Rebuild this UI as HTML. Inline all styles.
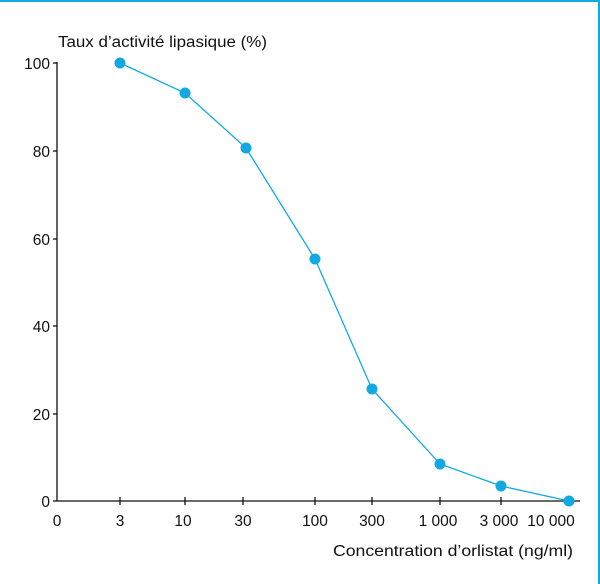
<!DOCTYPE html>
<html><head><style>body{margin:0;background:#fff}svg{display:block}text{font-family:"Liberation Sans",sans-serif;font-size:15.5px;fill:#111}</style></head><body>
<svg width="600" height="584" viewBox="0 0 600 584">
<rect x="0" y="0" width="600" height="2" fill="#12a9e3"/>
<rect x="598" y="0" width="2" height="584" fill="#12a9e3"/>
<g stroke="#111" stroke-width="1.3">
<line x1="57" y1="62" x2="57" y2="501"/>
<line x1="57" y1="501" x2="580" y2="501"/>
<line x1="53" y1="63" x2="57" y2="63"/><line x1="53" y1="151" x2="57" y2="151"/><line x1="53" y1="239" x2="57" y2="239"/><line x1="53" y1="326" x2="57" y2="326"/><line x1="53" y1="414" x2="57" y2="414"/><line x1="53" y1="501" x2="57" y2="501"/>
<line x1="120" y1="497" x2="120" y2="505"/><line x1="185" y1="497" x2="185" y2="505"/><line x1="243" y1="497" x2="243" y2="505"/><line x1="315" y1="497" x2="315" y2="505"/><line x1="372" y1="497" x2="372" y2="505"/><line x1="440" y1="497" x2="440" y2="505"/><line x1="501" y1="497" x2="501" y2="505"/><line x1="569" y1="497" x2="569" y2="505"/>
</g>
<g text-anchor="end">
<text x="50" y="69">100</text><text x="50" y="157">80</text><text x="50" y="245">60</text><text x="50" y="332">40</text><text x="50" y="420">20</text><text x="50" y="507">0</text>
</g>
<g text-anchor="middle">
<text x="57" y="526">0</text><text x="120" y="526">3</text><text x="183" y="526">10</text><text x="243" y="526">30</text><text x="315" y="526">100</text><text x="372" y="526">300</text><text x="438" y="526">1 000</text><text x="499" y="526">3 000</text><text x="551" y="526">10 000</text>
</g>
<text x="58" y="47" font-size="17" textLength="209" lengthAdjust="spacingAndGlyphs">Taux d’activité lipasique (%)</text>
<text x="333" y="556" font-size="17" textLength="240" lengthAdjust="spacingAndGlyphs">Concentration d’orlistat (ng/ml)</text>
<polyline points="120,63 185,93 246,148 315,259 372,389 440,464 501,486 569,501" fill="none" stroke="#12a9e3" stroke-width="1.3"/>
<g fill="#12a9e3">
<circle cx="120" cy="63" r="5.5"/><circle cx="185" cy="93" r="5.5"/><circle cx="246" cy="148" r="5.5"/><circle cx="315" cy="259" r="5.5"/><circle cx="372" cy="389" r="5.5"/><circle cx="440" cy="464" r="5.5"/><circle cx="501" cy="486" r="5.5"/><circle cx="569" cy="501" r="5.5"/>
</g>
</svg>
</body></html>
